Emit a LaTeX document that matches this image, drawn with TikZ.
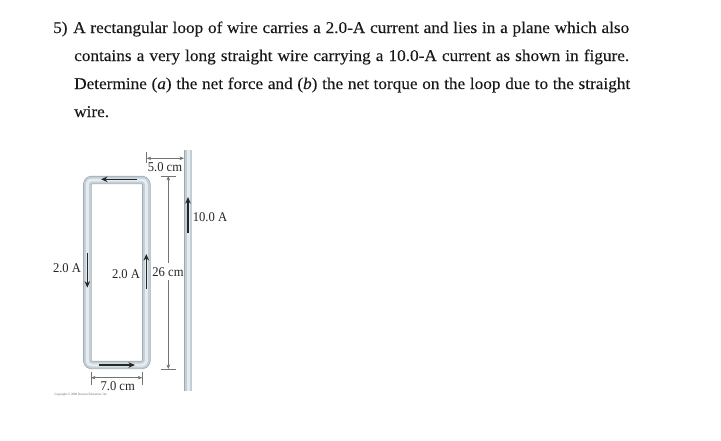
\documentclass[tikz,border=0pt]{standalone}
\usepackage{fontspec}
\setmainfont[FakeStretch=0.94]{Liberation Serif}
\newfontfamily\bodyfont[FakeStretch=1.05,FakeBold=0.12]{Liberation Serif}
\usetikzlibrary{arrows.meta}
\definecolor{wireedge}{HTML}{9DA9B2}
\definecolor{wiremid}{HTML}{C3CED5}
\definecolor{wirelight}{HTML}{E6EBEF}
\tikzset{
  textline/.style={anchor=base west,inner sep=0pt,font=\bodyfont\fontsize{16.4}{18}\selectfont,text=black!90},
  figlabel/.style={inner sep=0pt,font=\fontsize{13.4}{14}\selectfont,text=black!85},
  current/.style={draw=black!85,line width=1.1pt,-{Stealth[length=6.5pt,width=5.5pt]}},
  dimline/.style={draw=black!55,line width=0.5pt},
  dimarrow/.style={dimline,{Stealth[length=4.5pt,width=3.5pt]}-{Stealth[length=4.5pt,width=3.5pt]}},
  wirea/.style={draw=wireedge,line width=8.4pt,line join=round,rounded corners=4pt},
  wireb/.style={draw=wiremid,line width=7pt,line join=round,rounded corners=4pt},
  wirec/.style={draw=wirelight,line width=3pt,line join=round,rounded corners=4pt}
}
\begin{document}
\begin{tikzpicture}[x=1pt,y=-1pt]
\useasboundingbox[fill=white] (0,0) rectangle (721,440);
% problem text
\node[textline] (num) at (53,33) {5)};
\node[textline] (l1) at (73,33) {\makebox[556pt][s]{A rectangular loop of wire carries a 2.0-A current and lies in a plane which also}};
\node[textline] (l2) at (74,61) {\makebox[555pt][s]{contains a very long straight wire carrying a 10.0-A current as shown in figure.}};
\node[textline] (l3) at (74,89) {\makebox[556pt][s]{Determine (\textit{a}) the net force and (\textit{b}) the net torque on the loop due to the straight}};
\node[textline] (l4) at (74,117) {wire.};
% loop corners
\coordinate (tl) at (87.3,180);
\coordinate (tr) at (146.3,180);
\coordinate (br) at (146.3,365);
\coordinate (bl) at (87.3,365);
\foreach \s in {wirea,wireb,wirec}
  \draw[\s] (tl) -- (tr) -- (br) -- (bl) -- cycle;
% long wire
\coordinate (wb) at (188,390.7);
\coordinate (wt) at (188,150);
\foreach \s in {wirea,wireb,wirec}
  \draw[\s] (wb) -- (wt);
% currents
\coordinate (c1a) at (136.7,179.3); \coordinate (c1b) at (101,179.3);
\coordinate (c2a) at (87.3,252.7);  \coordinate (c2b) at (87.3,287.7);
\coordinate (c3a) at (146.3,289);   \coordinate (c3b) at (146.3,254);
\coordinate (c4a) at (99.3,365);    \coordinate (c4b) at (135,365);
\coordinate (c5a) at (188,233);     \coordinate (c5b) at (188,197);
\draw[current] (c1a) -- (c1b);
\draw[current] (c2a) -- (c2b);
\draw[current] (c3a) -- (c3b);
\draw[current] (c4a) -- (c4b);
\draw[current] (c5a) -- (c5b);
% labels
\node[figlabel] (la) at (67,268) {2.0 A};
\node[figlabel] (lb) at (126,274.5) {2.0 A};
\node[figlabel] (lc) at (210,217.5) {10.0 A};
\node[figlabel] (d5) at (165,167) {5.0 cm};
\node[figlabel] (d26) at (168,272.5) {26 cm};
\node[figlabel] (d7) at (117.7,386) {7.0 cm};
\node[inner sep=0pt,font=\fontsize{3.3}{4}\selectfont,text=black!60] (copy) at (81,395) {Copyright © 2008 Pearson Education, Inc.};
% 5.0 cm dimension
\coordinate (a1) at (146.7,151.7); \coordinate (a2) at (146.7,163);
\coordinate (a3) at (146.7,158.3); \coordinate (a4) at (184,158.3);
\draw[dimline] (a1) -- (a2);
\draw[dimarrow] (a3) -- (a4);
% 26 cm dimension
\coordinate (b1) at (161,176);   \coordinate (b2) at (175.7,176);
\coordinate (b3) at (168.3,176); \coordinate (b4) at (161,369);
\coordinate (b5) at (175.7,369); \coordinate (b6) at (168.3,369);
\draw[dimline] (b1) -- (b2);
\draw[dimline] (b4) -- (b5);
\draw[dimline,{Stealth[length=4.5pt,width=3.5pt]}-] (b3) -- ([yshift=5pt]d26.north -| b3);
\draw[dimline,-{Stealth[length=4.5pt,width=3.5pt]}] ([yshift=-3pt]d26.south -| b6) -- (b6);
% 7.0 cm dimension
\coordinate (e1) at (91,371.7);  \coordinate (e2) at (91,385);
\coordinate (e3) at (142.3,371.7); \coordinate (e4) at (142.3,385);
\coordinate (e5) at (91,377.7);  \coordinate (e6) at (142.3,377.7);
\draw[dimline] (e1) -- (e2);
\draw[dimline] (e3) -- (e4);
\draw[dimarrow] (e5) -- (e6);
\end{tikzpicture}
\end{document}
